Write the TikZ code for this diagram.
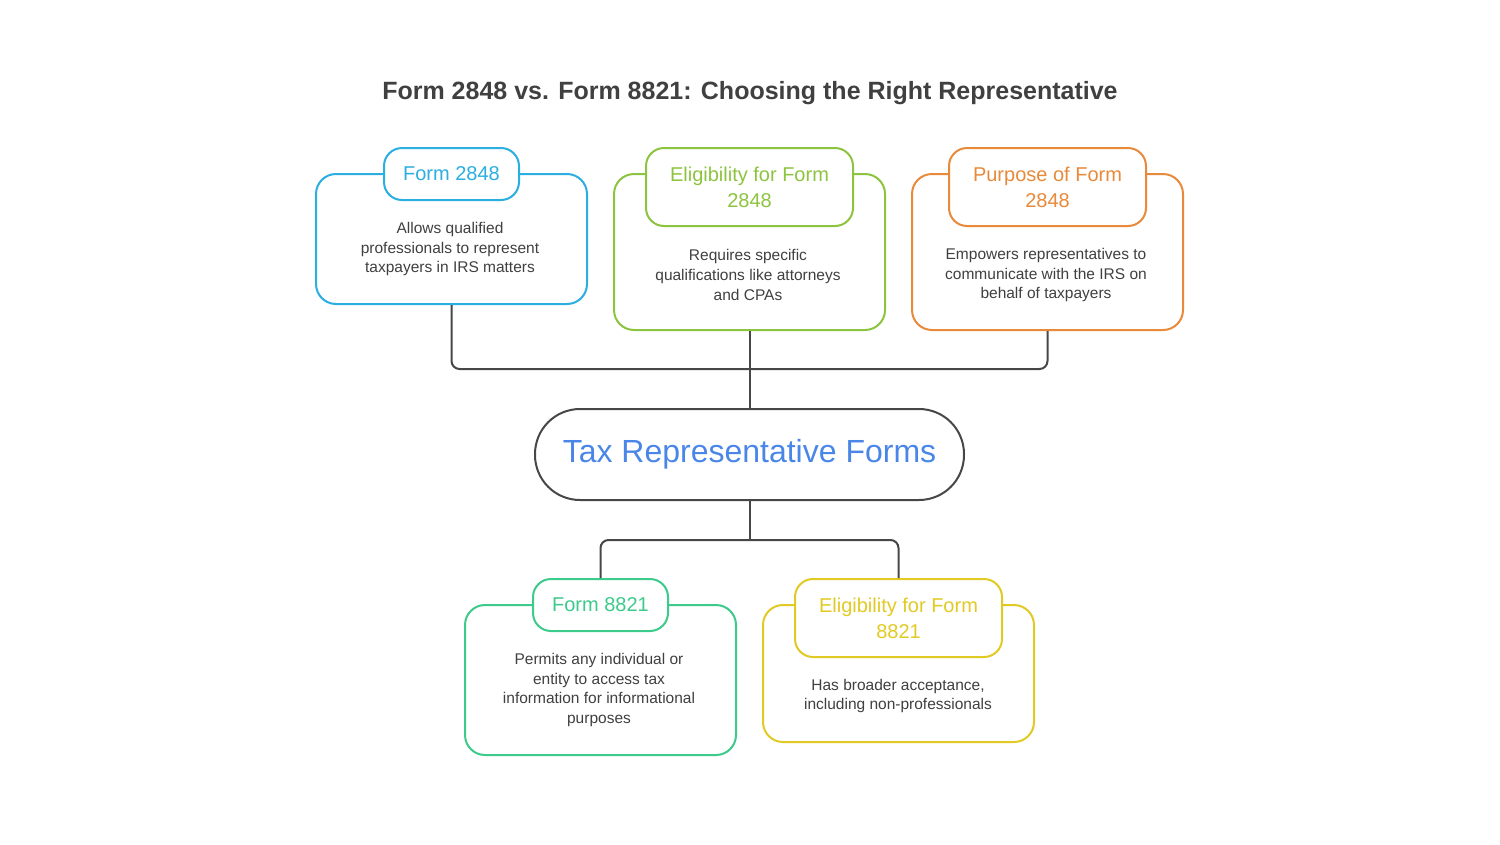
\documentclass[tikz,border=0pt]{standalone}
\usepackage{fontspec}
\setmainfont{Liberation Sans}
\begin{document}
\begin{tikzpicture}[x=1pt,y=-1pt,
  box/.style={draw=#1,line width=2pt,rounded corners=20pt,fill=white,inner sep=0pt},
  pill/.style={draw=#1,line width=2pt,rounded corners=18pt,fill=white,text=#1,font=\fontsize{20}{26}\selectfont,align=center,inner sep=0pt},
  body/.style={text=black!75,font=\fontsize{15.5}{19.7}\selectfont,align=center},
  conn/.style={draw=black!72,line width=2pt,rounded corners=8pt}]
\definecolor{cA}{HTML}{2BAEE0}
\definecolor{cB}{HTML}{8DC43F}
\definecolor{cC}{HTML}{E88A3A}
\definecolor{cD}{HTML}{3CCB8A}
\definecolor{cE}{HTML}{E2CA24}
\definecolor{cT}{HTML}{4A86E8}
\useasboundingbox (0,0) rectangle (1500,844);
\node[font=\bfseries\fontsize{25}{30}\selectfont,text=black!75] (title) at (750,93) {Form 2848 vs. Form 8821: Choosing the Right Representative};
% boxes
\node[box=cA,minimum width=271pt,minimum height=130pt] (b1) at (451.5,239) {};
\node[box=cB,minimum width=271pt,minimum height=156pt] (b2) at (749.5,252) {};
\node[box=cC,minimum width=271pt,minimum height=156pt] (b3) at (1047.5,252) {};
\node[box=cD,minimum width=271pt,minimum height=150pt] (b4) at (600.5,680) {};
\node[box=cE,minimum width=271pt,minimum height=137pt] (b5) at (898.5,673.5) {};
\node[pill=cA,minimum width=135pt,minimum height=52pt] (p1) at (451.5,174) {Form 2848};
\node[pill=cB,minimum width=207pt,minimum height=78pt] (p2) at (749.5,187) {Eligibility for Form\\2848};
\node[pill=cC,minimum width=197pt,minimum height=78pt] (p3) at (1047.5,187) {Purpose of Form\\2848};
\node[pill=cD,minimum width=135pt,minimum height=52pt] (p4) at (600.5,605) {Form 8821};
\node[pill=cE,minimum width=207pt,minimum height=78pt] (p5) at (898.5,618) {Eligibility for Form\\8821};
\node[body] (t1) at (450,249) {Allows qualified\\professionals to represent\\taxpayers in IRS matters};
\node[body] (t2) at (748,275) {Requires specific\\qualifications like attorneys\\and CPAs};
\node[body] (t3) at (1046,275) {Empowers representatives to\\communicate with the IRS on\\behalf of taxpayers};
\node[body] (t4) at (599,690) {Permits any individual or\\entity to access tax\\information for informational\\purposes};
\node[body] (t5) at (898,696) {Has broader acceptance,\\including non-professionals};
% center
\node[draw=black!72,line width=2pt,rounded corners=45pt,minimum width=429pt,minimum height=91pt,text=cT,font=\fontsize{32}{38}\selectfont] (c) at (749.5,454.5) {Tax Representative Forms};
% connectors
\coordinate (j1) at (749.5,369);
\coordinate (j2) at (749.5,540);
\draw[conn] (b1.south) |- (j1) -| (b3.south);
\draw[conn] (b2.south) -- (c.north);
\draw[conn] (c.south) -- (j2);
\draw[conn] (p4.north) |- (j2) -| (p5.north);
\end{tikzpicture}
\end{document}
